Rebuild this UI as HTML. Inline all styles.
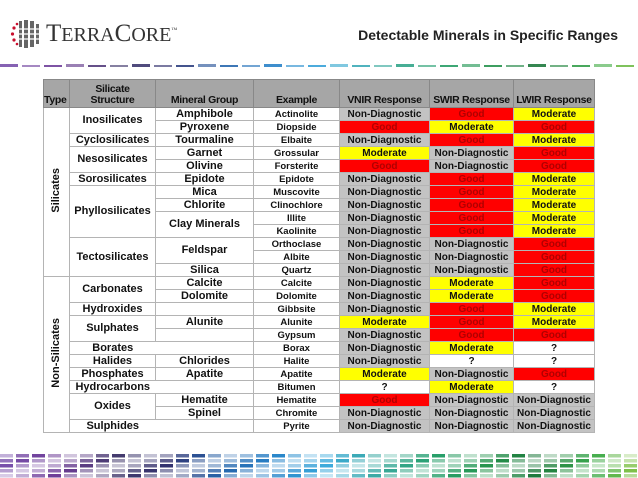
<!DOCTYPE html>
<html><head><meta charset="utf-8">
<style>
*{margin:0;padding:0;box-sizing:border-box}
body{width:638px;height:478px;background:#fff;position:relative;overflow:hidden;font-family:"Liberation Sans",Arial,sans-serif}
#logo-text{position:absolute;left:46px;top:20px;font-family:"Liberation Serif",serif;font-size:25px;color:#333;letter-spacing:0px}
#title{position:absolute;right:20px;top:27px;font-size:14px;font-weight:bold;color:#222}
table{position:absolute;left:43px;top:79px;width:551px;border-collapse:collapse;table-layout:fixed;border:1px solid #8a8a8a}
td,th{border:1px solid #b4b4b4;font-weight:bold;text-align:center;color:#111;overflow:hidden;white-space:nowrap;padding:0;line-height:11px}
th{background:#a6a6a6;height:28px;font-size:10.5px;letter-spacing:-0.3px;vertical-align:bottom;padding-bottom:1px;border-color:#888}
td{height:13px;font-size:10.5px}
td.ex{font-size:9.5px}
td.N{background:#c3c3c3}
td.G{background:#ff0000;color:#b00000}
td.M{background:#ffff00}
td.Q{background:#fff}
td.r{font-size:10px}
.vt{writing-mode:vertical-rl;transform:rotate(180deg);display:inline-block;font-size:11px}
</style></head><body>
<svg style="position:absolute;left:10px;top:19px" width="34" height="30" viewBox="0 0 34 30">
 <g fill="#666">
  <rect x="9" y="2" width="3" height="26"/><rect x="14" y="1" width="4" height="28"/><rect x="20" y="2" width="4" height="26"/><rect x="26" y="5" width="3" height="20"/>
  <circle cx="4" cy="9" r="1.6" fill="#c8102e"/><circle cx="2.5" cy="15" r="1.6" fill="#c8102e"/><circle cx="4" cy="21" r="1.6" fill="#c8102e"/><circle cx="7" cy="5" r="1.3" fill="#c8102e"/><circle cx="7" cy="25" r="1.3" fill="#c8102e"/>
 </g>
 <g stroke="#fff" stroke-width="1.3"><line x1="8" y1="10" x2="30" y2="10"/><line x1="8" y1="15" x2="30" y2="15"/><line x1="8" y1="20" x2="30" y2="20"/></g>
</svg>
<div id="logo-text">T<span style="font-size:20px">ERRA</span>C<span style="font-size:20px">ORE</span><sup style="font-size:6px">™</sup></div>
<div id="title">Detectable Minerals in Specific Ranges</div>
<svg id="topline" style="position:absolute;left:0;top:63px" width="638" height="6"></svg>
<table id="tbl">
<colgroup><col style="width:26px"><col style="width:86px"><col style="width:98px"><col style="width:86px"><col style="width:90px"><col style="width:84px"><col style="width:81px"></colgroup>
<tbody id="tb">
<tr>
<th style="text-align:left">Type</th>
<th>Silicate<br>Structure</th>
<th>Mineral Group</th>
<th>Example</th>
<th>VNIR Response</th>
<th>SWIR Response</th>
<th>LWIR Response</th>
</tr>
</tbody>
</table>
<svg id="bottom" style="position:absolute;left:0;top:454px" width="638" height="24"></svg>
<script>
const rows=[
 {t:['Silicates',13],s:['Inosilicates',2],g:['Amphibole',1],e:'Actinolite',r:['N','G','M']},
 {g:['Pyroxene',1],e:'Diopside',r:['G','M','G']},
 {s:['Cyclosilicates',1],g:['Tourmaline',1],e:'Elbaite',r:['N','G','M']},
 {s:['Nesosilicates',2],g:['Garnet',1],e:'Grossular',r:['M','N','G']},
 {g:['Olivine',1],e:'Forsterite',r:['G','N','G']},
 {s:['Sorosilicates',1],g:['Epidote',1],e:'Epidote',r:['N','G','M']},
 {s:['Phyllosilicates',4],g:['Mica',1],e:'Muscovite',r:['N','G','M']},
 {g:['Chlorite',1],e:'Clinochlore',r:['N','G','M']},
 {g:['Clay Minerals',2],e:'Illite',r:['N','G','M']},
 {e:'Kaolinite',r:['N','G','M']},
 {s:['Tectosilicates',3],g:['Feldspar',2],e:'Orthoclase',r:['N','N','G']},
 {e:'Albite',r:['N','N','G']},
 {g:['Silica',1],e:'Quartz',r:['N','N','G']},
 {t:['Non-Silicates',12],s:['Carbonates',2],g:['Calcite',1],e:'Calcite',r:['N','M','G']},
 {g:['Dolomite',1],e:'Dolomite',r:['N','M','G']},
 {s:['Hydroxides',1],g:['',1],e:'Gibbsite',r:['N','G','M']},
 {s:['Sulphates',2],g:['Alunite',1],e:'Alunite',r:['M','G','M']},
 {g:['',1],e:'Gypsum',r:['N','G','G']},
 {s:['Borates',1],m:1,g:['',1],e:'Borax',r:['N','M','Q']},
 {s:['Halides',1],g:['Chlorides',1],e:'Halite',r:['N','Q','Q']},
 {s:['Phosphates',1],g:['Apatite',1],e:'Apatite',r:['M','N','G']},
 {s:['Hydrocarbons',1],m:1,g:['',1],e:'Bitumen',r:['Q','M','Q']},
 {s:['Oxides',2],g:['Hematite',1],e:'Hematite',r:['G','N','N']},
 {g:['Spinel',1],e:'Chromite',r:['N','N','N']},
 {s:['Sulphides',1],m:1,g:['',1],e:'Pyrite',r:['N','N','N']}
];
const labels={N:'Non-Diagnostic',G:'Good',M:'Moderate',Q:'?'};
const bands=['vnir','swir','lwir'];
const tb=document.getElementById('tb');
rows.forEach((row,i)=>{
 const tr=document.createElement('tr');
 
 
 if(row.t){const td=document.createElement('td');td.rowSpan=row.t[1];
  
  
  td.innerHTML='<span class="vt">'+row.t[0]+'</span>';tr.appendChild(td);}
 if(row.s){const td=document.createElement('td');td.rowSpan=row.s[1];
  
  
  td.textContent=row.s[0];td.style.fontSize='11px';
  if(row.m){td.style.borderRightStyle='hidden';}
  tr.appendChild(td);}
 if(row.g){const td=document.createElement('td');td.rowSpan=row.g[1];
  
  
  td.textContent=row.g[0];td.style.fontSize='11px';
  if(row.m){td.style.borderLeftStyle='hidden';}
  tr.appendChild(td);}
 const ex=document.createElement('td');ex.className='ex';ex.textContent=row.e;
 
 
 tr.appendChild(ex);
 row.r.forEach((v,j)=>{const td=document.createElement('td');td.className=v+' r';td.textContent=labels[v];
  
  
  tr.appendChild(td);});
 tb.appendChild(tr);
});
const hues=[[120,80,170],[110,60,150],[70,60,110],[50,50,110],[40,100,170],[40,130,200],[60,170,220],[60,170,160],[40,160,110],[40,150,80],[30,120,60],[60,170,80],[150,200,70]];
function col(t,l){const n=hues.length-1,f=t*n,k=Math.min(n-1,Math.floor(f)),u=f-k;
 const c=hues[k].map((v,x)=>v+(hues[k+1][x]-v)*u).map(v=>Math.round(v+(255-v)*l));return 'rgb('+c.join(',')+')';}
const topSvg=document.getElementById('topline');
for(let x=0,i=0;x<638;x+=22,i++){const r=document.createElementNS('http://www.w3.org/2000/svg','rect');
 r.setAttribute('x',x);r.setAttribute('y',1+(i%3==0?0:1));r.setAttribute('width',18);r.setAttribute('height',i%3==0?3:2);
 r.setAttribute('fill',col(x/638,i%2?0.35:0.1));
 
 
 topSvg.appendChild(r);}
const botSvg=document.getElementById('bottom');
const shades=[0.55,0.2,0.0,0.45,0.7];
for(let x=0,i=0;x<638;x+=16,i++){
 for(let s=0;s<5;s++){const r=document.createElementNS('http://www.w3.org/2000/svg','rect');
  r.setAttribute('x',x);r.setAttribute('y',s*5);r.setAttribute('width',13);r.setAttribute('height',3.5);
  r.setAttribute('fill',col(x/638,shades[(s+i)%5]));
  
  
  botSvg.appendChild(r);}
}
</script>
</body></html>
